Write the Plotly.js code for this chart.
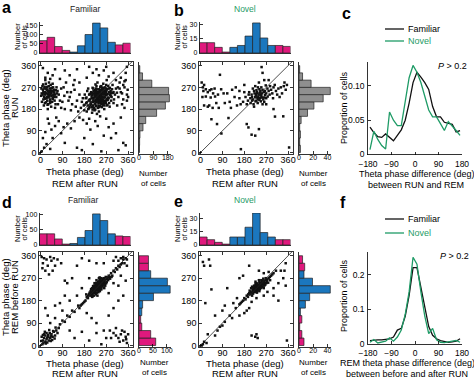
<!DOCTYPE html>
<html><head><meta charset="utf-8">
<script src="https://cdn.plot.ly/plotly-3.0.1.min.js"></script>
<style>html,body{margin:0;padding:0;background:#fff}#chart{width:474px;height:379px}</style>
</head><body><div id="chart"></div>
<script>
// ---------------- DATA ----------------
const binCenters = [15,45,75,105,135,165,195,225,255,285,315,345];
const binColorKey = ['p','p','p','p','b','b','b','b','b','b','p','p'];

const aTopHist = [67,85,35,14,5,39,100,162,136,58,44,53];
const aRightHist = [3,4,6,25,42,110,165,190,185,80,22,5];
const bTopHist = [11,11,6,1,6,8,18,32,16,8,8,7];
const bRightHist = [2,1,2,1,3,12,21,34,44,17,5,1];
const dTopHist = [37,37,20,3,5,25,48,103,81,37,30,28];
const dRightHist = [60,42,10,6,10,13,52,112,102,42,34,34];
const eTopHist = [9,6,3,1,9,9,20,36,14,9,6,6];
const eRightHist = [7,4,1,4,2,9,15,44,19,7,8,5];

const diagLine = [-20, 400];

const aPts = [[235,225],[240,232],[228,218],[250,240],[245,215],[222,230],[230,245],[260,228],[215,210],[238,205],[255,255],[270,238],[210,235],[248,222],[232,236],[226,200],[262,212],[244,250],[218,222],[236,214],[252,230],[268,250],[205,198],[240,262],[280,225],[198,215],[225,258],[258,198],[246,238],[233,228],[212,188],[274,262],[290,245],[188,205],[264,270],[220,245],[242,190],[255,212],[230,210],[248,205],[238,248],[285,268],[196,180],[300,250],[178,195],[268,205],[222,175],[250,275],[236,185],[276,218],[208,250],[292,230],[186,225],[260,240],[244,228],[228,265],[272,195],[214,268],[258,262],[200,240],[310,265],[180,175],[296,280],[252,188],[234,290],[270,280],[216,195],[282,205],[192,255],[240,170],[306,240],[262,180],[226,230],[248,258],[204,220],[288,255],[170,210],[318,270],[212,165],[266,228],[230,275],[254,245],[240,218],[194,195],[276,242],[224,212],[260,205],[246,272],[210,225],[286,238],[238,238],[220,185],[302,220],[166,185],[272,300],[232,160],[256,220],[196,265],[284,190],[242,244],[250,200],[218,255],[264,255],[228,192],[294,262],[182,240],[244,208],[258,285],[206,208],[270,215],[236,252],[314,248],[190,170],[278,275],[222,240],[254,230],[238,195],[300,205],[174,225],[262,195],[226,282],[248,215],[290,215],[214,178],[268,265],[234,222],[252,268],[202,188],[280,250],[230,250],
[238,226],[243,236],[231,221],[253,243],[247,218],[224,233],[233,248],[263,231],[217,213],[241,208],[257,252],[272,241],[213,238],[251,225],[229,239],[223,203],[265,215],[246,253],[216,225],[239,217],[249,233],[266,247],[208,201],[243,259],[277,228],[201,218],[227,255],[256,201],[249,241],[236,231],[214,191],[271,259],[287,248],[191,208],[261,267],[223,248],[245,193],[258,215],[233,213],[251,208],[241,245],[282,265],[199,183],[297,247],[181,198],[265,208],[225,178],[247,272],[239,188],[273,221],[211,247],[289,233],[189,228],[257,243],[247,231],[231,262],[275,198],[217,265],[255,265],[203,243],
[330,250],[345,270],[355,240],[340,220],[325,290],[350,300],[335,200],[358,260],[320,230],[345,185],[330,310],[355,215],[315,195],[340,280],[325,265],[350,330],[310,300],[360,230],[335,245],[345,295],
[10,260],[20,250],[30,240],[15,230],[25,270],[40,255],[35,235],[45,245],[50,225],[5,245],[28,215],[38,265],[18,205],[55,260],[60,240],[42,280],[8,275],[32,200],[48,210],[22,285],[65,230],[12,220],[36,250],[52,270],[26,230],[44,190],[70,255],[16,265],[58,215],[3,235],[34,275],[62,200],[24,245],[46,235],[14,195],[75,240],[30,180],[54,250],[40,220],[20,300],[66,270],[6,210],[38,240],[50,285],[28,260],[80,215],[12,250],[44,265],[60,185],[25,225],[35,290],[72,200],[18,240],[48,255],[56,230],[4,265],[40,205],[30,255],[85,265],[68,245],
[14,248],[24,262],[33,228],[43,250],[53,238],[9,240],[27,272],[39,212],[19,223],[47,268],[57,248],[31,245],[23,208],[63,258],[11,282],[37,232],[29,198],[51,222],[17,272],[41,243],
[90,210],[100,180],[110,250],[95,270],[120,230],[130,200],[140,260],[150,215],[105,290],[125,175],[145,190],[160,240],[115,215],[135,280],[155,170],[98,235],[160,290],[85,185],[140,300],[125,250],
[10,350],[30,330],[60,345],[20,310],[50,320],[80,305],[150,345],[200,355],[215,330],[240,320],[260,340],[280,315],[300,330],[190,310],[230,345],[270,355],[120,320],[100,340],[40,305],[355,355],
[5,5],[15,20],[25,35],[20,85],[35,120],[45,95],[30,140],[60,110],[50,60],[75,130],[85,80],[100,40],[110,120],[125,100],[140,130],[150,20],[170,10],[180,60],[190,120],[200,140],[205,95],[215,35],[225,130],[235,110],[250,5],[260,70],[270,140],[280,105],[300,120],[310,80],[330,145],[340,40],[350,30],[320,10],[290,60],[245,150],[160,145],[175,135],[95,105],[65,145],[10,60],[40,15]];

const bPts = [[225,230],[240,240],[232,250],[250,235],[215,220],[245,225],[260,250],[230,215],[210,240],[255,260],[238,232],[220,255],[270,245],[205,225],[248,212],[228,242],[262,228],[242,262],[235,205],[280,255],[195,215],[252,245],[218,200],[275,265],[232,228],[200,250],[265,238],[244,248],[226,212],[290,260],[185,230],[258,220],[236,270],[212,230],[270,225],[248,240],[222,245],[300,270],[190,200],[284,240],[240,225],[230,258],[215,265],[255,200],[310,255],[175,210],[268,278],[242,218],[206,205],[295,245],[228,235],[250,270],[320,265],[180,250],[262,210],[234,245],[240,290],[298,225],[220,190],[276,232],[330,270],[160,225],[286,275],[212,215],[246,255],[270,200],[236,222],[315,240],[198,240],[252,228],[225,275],[305,280],[165,200],[265,255],[342,275],[350,260],[355,280],[335,245],[325,230],[345,290],[280,300],[262,300],[300,180],[340,150],
[5,290],[10,270],[15,280],[12,255],[22,262],[30,250],[38,258],[45,262],[52,245],[60,232],[42,228],[65,205],[72,240],[80,322],[30,190],[15,195],[50,185],[75,185],[85,262],[22,232],[36,195],[58,265],[8,230],
[45,138],[68,118],[86,79],[100,205],[115,143],[125,185],[140,230],[150,195],[110,245],[130,260],[190,118],[197,104],[210,74],[240,97],[166,14],[364,21],[251,354],[255,330],[306,149],[225,70],[160,255],[145,270],[180,280],[120,210],[95,245]];

const dPts = [[230,235],[240,245],[225,225],[250,250],[235,230],[220,215],[245,238],[255,260],[215,220],[238,250],[228,240],[260,255],[210,210],[248,232],[232,222],[242,260],[222,232],[265,248],[205,200],[252,242],[236,238],[218,228],[270,265],[200,205],[246,226],[226,248],[258,240],[212,195],[240,270],[275,270],[195,190],[232,212],[262,262],[244,250],[224,210],[280,280],[190,195],[254,268],[216,238],[234,244],[266,240],[206,218],[248,258],[228,205],[285,275],[185,180],[238,222],[272,255],[214,205],[250,240],[236,256],[290,290],[180,175],[258,250],[220,240],[244,218],[268,275],[202,212],[240,236],[230,262],[295,280],[175,170],[262,230],[226,218],[254,255],[212,230],[246,244],[300,300],[170,165],[278,262],[234,200],[242,228],[222,250],[260,270],[196,200],[250,225],[230,245],[305,295],[165,160],[286,268],[216,212],[256,246],[238,214],[208,226],[270,250],[226,236],[310,310],[160,150],[248,270],[234,228],[292,275],[188,205],[264,244],[220,200],[252,252],[242,240],[315,305],[155,160],
[233,238],[243,248],[228,228],[253,253],[238,233],[223,218],[248,241],[258,263],[218,223],[241,253],[231,243],[263,258],[213,213],[251,235],[235,225],[245,263],[225,235],[268,251],[208,203],[255,245],[239,241],[221,231],[273,268],[203,208],[249,229],[229,251],[261,243],[215,198],[243,273],[278,273],
[140,135],[130,140],[120,115],[110,120],[100,95],[90,100],[80,85],[320,320],[330,325],[340,345],[350,350],[335,330],[325,315],
[10,20],[20,15],[15,30],[25,25],[30,35],[20,40],[35,20],[40,30],[12,10],[28,12],[45,45],[50,35],[38,50],[55,55],[5,35],[60,40],[25,50],[42,18],[18,55],[65,60],[8,5],[32,42],[48,22],[70,50],[15,45],[58,28],[22,8],[36,62],[75,70],[3,18],[52,58],[28,30],[44,38],[62,72],[10,42],
[5,355],[15,350],[25,345],[40,355],[55,350],[10,330],[30,320],[45,340],[60,320],[20,300],[70,345],[85,330],[50,300],[8,310],[35,285],
[300,50],[310,40],[320,30],[330,45],[340,20],[350,35],[355,10],[345,55],[325,15],[310,70],[290,30],[360,45],[335,60],[285,60],[352,25],
[340,355],[355,345],[330,350],[320,340],[345,330],[300,340],[310,355],[355,320],
[20,150],[30,120],[60,160],[80,170],[100,200],[110,250],[130,270],[150,320],[170,350],[200,340],[230,330],[260,330],[190,130],[210,110],[230,90],[260,60],[280,120],[300,150],[320,180],[340,200],[350,260],[170,230],[150,200],[120,180],[90,140],[60,110],[40,90],[200,20],[250,5],[270,30],[140,30],[170,55],[230,50],[120,60],[100,260],[300,250],[320,240],[330,280],[280,210],[200,270]];

const ePts = [[230,235],[240,240],[225,228],[250,250],[235,225],[220,220],[245,245],[255,255],[215,215],[238,232],[228,242],[260,260],[210,210],[248,238],[232,220],[242,255],[222,230],[265,250],[205,205],[252,244],[236,236],[218,225],[270,262],[200,210],[246,230],[226,248],[258,246],[212,200],[240,262],[275,265],[195,195],[232,212],[262,255],[244,226],[224,238],[280,270],[190,200],[254,236],[216,232],[234,248],[266,244],[206,215],[248,252],[228,216],[285,275],[185,185],[238,244],[272,258],[214,222],[250,232],[236,228],[290,280],[180,190],[258,268],[220,240],[244,236],[268,270],[202,220],[240,228],[230,250],[295,285],[175,180],[262,240],[226,222],[254,258],[212,236],[246,248],[300,290],[170,175],[278,252],[234,240],[242,218],[222,214],[260,230],[196,205],[250,262],[230,226],[165,170],[286,262],[216,208],[256,250],[238,222],[208,230],[270,250],[226,256],[310,300],[160,165],
[150,190],[145,150],[135,170],[120,120],[100,95],[90,80],[80,75],[70,60],[60,40],[30,45],[15,15],[10,5],[25,10],[5,0],[180,130],[190,140],[200,150],[210,175],[230,190],[260,200],[275,215],[300,230],[320,250],[330,300],[340,270],[350,240],[355,20],[320,180],[300,200],[230,45],[235,30],[225,35],[210,40],[160,120],[130,110],[110,230],[100,160],[90,140],[60,120],[20,170],[45,225],[10,335],[15,320],[35,345],[40,320],[200,320],[160,270],[175,280],[350,330],[345,300],[260,290],[280,295],[240,300]];

const phaseDiff = [-172.5,-157.5,-142.5,-127.5,-112.5,-97.5,-82.5,-67.5,-52.5,-37.5,-22.5,-7.5,7.5,22.5,37.5,52.5,67.5,82.5,97.5,112.5,127.5,142.5,157.5,172.5];
const cFamiliar = [0.040,0.032,0.026,0.025,0.030,0.025,0.020,0.028,0.036,0.050,0.075,0.105,0.120,0.113,0.105,0.095,0.070,0.055,0.055,0.047,0.045,0.044,0.033,0.035];
const cNovel    = [0.007,0.034,0.022,0.013,0.008,0.062,0.050,0.042,0.042,0.080,0.112,0.130,0.120,0.105,0.085,0.065,0.055,0.055,0.045,0.035,0.048,0.042,0.035,0.028];
const fFamiliar = [0.010,0.012,0.012,0.012,0.013,0.015,0.020,0.040,0.045,0.080,0.140,0.220,0.220,0.160,0.100,0.050,0.025,0.015,0.010,0.007,0.005,0.006,0.008,0.015];
const fNovel    = [0.005,0.013,0.003,0.005,0.008,0.018,0.008,0.020,0.040,0.085,0.150,0.250,0.230,0.150,0.080,0.030,0.045,0.012,0.005,0.004,0.005,0.008,0.010,0.005];

// ---------------- STYLE ----------------
const W = 474, H = 379;
const PINK = '#e0197d', BLUE = '#1b77be', GRAY = '#8f8f8f', GREEN = '#1e9b66';
const FONT = 'Liberation Sans, Arial, Helvetica, sans-serif';
const colorOf = k => k === 'p' ? PINK : BLUE;
const X = (a, b) => [a / W, b / W];
const Y = (top, bot) => [1 - bot / H, 1 - top / H];

const traces = [];
function scat(pts, n) {
  traces.push({type:'scatter', mode:'markers', x:pts.map(p=>p[0]), y:pts.map(p=>p[1]),
    xaxis:'x'+n, yaxis:'y'+n, marker:{symbol:'square', size:2.5, color:'#111'}, hoverinfo:'skip'});
  traces.push({type:'scatter', mode:'lines', x:diagLine, y:diagLine, xaxis:'x'+n, yaxis:'y'+n,
    line:{color:'#222', width:0.8}, hoverinfo:'skip'});
}
function topHist(vals, n) {
  traces.push({type:'bar', x:binCenters, y:vals, width:30, xaxis:'x'+n, yaxis:'y'+n,
    marker:{color:binColorKey.map(colorOf), line:{color:'#222', width:0.7}}, hoverinfo:'skip'});
}
function rightHist(vals, n, colored) {
  traces.push({type:'bar', orientation:'h', y:binCenters, x:vals, width:30, xaxis:'x'+n, yaxis:'y'+n,
    marker:{color: colored ? binColorKey.map(colorOf) : GRAY, line:{color:'#222', width:0.7}}, hoverinfo:'skip'});
}
function lines(fam, nov, n) {
  traces.push({type:'scatter', mode:'lines', x:phaseDiff, y:fam, xaxis:'x'+n, yaxis:'y'+n, line:{color:'#111', width:1.3}, hoverinfo:'skip'});
  traces.push({type:'scatter', mode:'lines', x:phaseDiff, y:nov, xaxis:'x'+n, yaxis:'y'+n, line:{color:GREEN, width:1.3}, hoverinfo:'skip'});
}

scat(aPts, 1); topHist(aTopHist, 2); rightHist(aRightHist, 3, false);
scat(bPts, 4); topHist(bTopHist, 5); rightHist(bRightHist, 6, false);
lines(cFamiliar, cNovel, 7);
scat(dPts, 8); topHist(dTopHist, 9); rightHist(dRightHist, 10, true);
scat(ePts, 11); topHist(eTopHist, 12); rightHist(eRightHist, 13, true);
lines(fFamiliar, fNovel, 14);

const base = {showgrid:false, zeroline:false, showline:true, linecolor:'#000', linewidth:0.8,
  ticks:'inside', ticklen:3, tickwidth:0.8, tickcolor:'#000', tickfont:{size:9, color:'#000', family:FONT}, fixedrange:true};
const layout = {width:W, height:H, margin:{l:0,r:0,t:0,b:0}, paper_bgcolor:'#fff', plot_bgcolor:'rgba(0,0,0,0)',
  showlegend:false, font:{family:FONT, color:'#000'}, bargap:0};

const phaseTicks = [0,90,180,270,360];
function scatterAxes(n, xd, yd) {
  layout['xaxis'+n] = {...base, domain:xd, range:[-6,380], tickvals:phaseTicks, mirror:'ticks', anchor:'y'+n, ticklabelstandoff:-3};
  layout['yaxis'+n] = {...base, domain:yd, range:[-6,375], tickvals:phaseTicks, mirror:'ticks', anchor:'x'+n};
}
function topAxes(n, xd, yd, ymax, yt) {
  layout['xaxis'+n] = {...base, domain:xd, range:[0,360], showticklabels:false, ticks:'', anchor:'y'+n};
  layout['yaxis'+n] = {...base, domain:yd, range:[0,ymax], tickvals:yt, tickfont:{size:7, color:'#000', family:FONT}, anchor:'x'+n};
}
function rightAxes(n, xd, yd, xmax, xt) {
  layout['xaxis'+n] = {...base, domain:xd, range:[0,xmax], tickvals:xt, tickfont:{size:7, color:'#000', family:FONT}, anchor:'y'+n, ticklabelstandoff:-3};
  layout['yaxis'+n] = {...base, domain:yd, range:[-6,375], showticklabels:false, ticks:'', anchor:'x'+n};
}
const lineTickFont = {size:8.5, color:'#000', family:FONT};
function lineAxes(n, xd, yd, ymax, yt, ytt) {
  layout['xaxis'+n] = {...base, domain:xd, range:[-180,180], tickvals:[-180,-90,0,90,180], anchor:'y'+n, ticklabelstandoff:1, tickfont:lineTickFont};
  layout['yaxis'+n] = {...base, domain:yd, range:[0,ymax], tickvals:yt, ticktext:ytt, anchor:'x'+n, tickfont:lineTickFont, ticklabelstandoff:1};
}

// top row
scatterAxes(1, X(39,133), Y(62,154));
topAxes(2, X(39.5,130.5), Y(22,53), 168, [0,50,100,150]);
rightAxes(3, X(139,171), Y(62,154), 200, [0,90,180]);
scatterAxes(4, X(199,293), Y(62,154));
topAxes(5, X(199.5,290.5), Y(22,53), 33, [0,15,30]);
rightAxes(6, X(299,331), Y(62,154), 45, [0,20,40]);
lineAxes(7, X(368,462), Y(62,154.5), 0.135, [0,0.05,0.1], ['0','0.05','0.10']);
// bottom row
scatterAxes(8, X(39,133), Y(252,347));
topAxes(9, X(39.5,130.5), Y(213,245), 106, [0,50,100]);
rightAxes(10, X(139,171), Y(252,347), 115, [0,50,100]);
scatterAxes(11, X(199,293), Y(252,347));
topAxes(12, X(199.5,290.5), Y(213,245), 36, [0,15,30]);
rightAxes(13, X(299,331), Y(252,347), 45, [0,20,40]);
lineAxes(14, X(368,462), Y(252,344), 0.265, [0,0.1,0.2], ['0','0.1','0.2']);

const ann = [];
function A(text, x, y, o) {
  ann.push(Object.assign({text, xref:'paper', yref:'paper', x:x/W, y:1-y/H, showarrow:false,
    xanchor:'center', yanchor:'middle', font:{size:9, color:'#000', family:FONT}}, o || {}));
}
const bold = {font:{size:16, color:'#000', family:FONT, weight:700}, xanchor:'left'};
A('<b>a</b>', 0, 8, bold); A('<b>b</b>', 172, 10, bold); A('<b>c</b>', 340, 13, bold);
A('<b>d</b>', 0, 202, bold); A('<b>e</b>', 172, 201, bold); A('<b>f</b>', 338, 202, bold);

A('Familiar', 85, 9, {font:{size:8.5, color:'#222', family:FONT}});
A('Novel', 245, 9, {font:{size:8.5, color:GREEN, family:FONT}});
A('Familiar', 83, 200, {font:{size:8.5, color:'#222', family:FONT}});
A('Novel', 245, 200, {font:{size:8.5, color:GREEN, family:FONT}});

const small = {size:7.5, color:'#000', family:FONT};
[[17,23.5,37],[177,183.5,37],[17,23.5,229],[177,183.5,229]].forEach(([x1,x2,yc]) => {
  A('Number', x1, yc, {textangle:-90, font:small});
  A('of cells', x2, yc, {textangle:-90, font:small});
});
[[153,173,183],[313,173,183],[154,362,372],[313,362,372]].forEach(([xc,y1,y2]) => {
  A('Number', xc, y1, {font:{size:8, color:'#000', family:FONT}});
  A('of cells', xc, y2, {font:{size:8, color:'#000', family:FONT}});
});
[[85,172,183],[245,172,183],[85,363,373],[245,363,373]].forEach(([xc,y1,y2], i) => {
  A('Theta phase (deg)', xc, y1, {font:{size:9.5, color:'#000', family:FONT}});
  A('REM after RUN', xc, y2, {font:{size:9.5, color:'#000', family:FONT}});
});
A('Theta phase (deg)', 5, 108, {textangle:-90, font:{size:9.5, color:'#000', family:FONT}});
A('RUN', 14, 108, {textangle:-90, font:{size:9.5, color:'#000', family:FONT}});
A('Theta phase (deg)', 5, 297, {textangle:-90, font:{size:9.5, color:'#000', family:FONT}});
A('REM before RUN', 14, 297, {textangle:-90, font:{size:9.5, color:'#000', family:FONT}});

A('Proportion of cells', 344, 108, {textangle:-90});
A('Theta phase difference (deg)', 416, 174);
A('between RUN and REM', 416, 185);
A('Proportion of cells', 344, 296, {textangle:-90});
A('REM theta phase difference (deg)', 407, 363);
A('between before and after RUN', 407, 374);
A('<i>P</i> > 0.2', 452, 66);
A('<i>P</i> > 0.2', 454, 256);

const shapes = [];
function leg(yFam, yNov) {
  shapes.push({type:'line', xref:'paper', yref:'paper', x0:385/W, x1:404/W, y0:1-yFam/H, y1:1-yFam/H, line:{color:'#111', width:1.3}});
  shapes.push({type:'line', xref:'paper', yref:'paper', x0:385/W, x1:404/W, y0:1-yNov/H, y1:1-yNov/H, line:{color:GREEN, width:1.3}});
  A('Familiar', 406, yFam, {xanchor:'left'});
  A('Novel', 406, yNov, {xanchor:'left', font:{size:9, color:GREEN, family:FONT}});
}
leg(29, 41); leg(219, 233);

layout.annotations = ann;
layout.shapes = shapes;
Plotly.newPlot('chart', traces, layout, {staticPlot:true, displayModeBar:false});
</script></body></html>
